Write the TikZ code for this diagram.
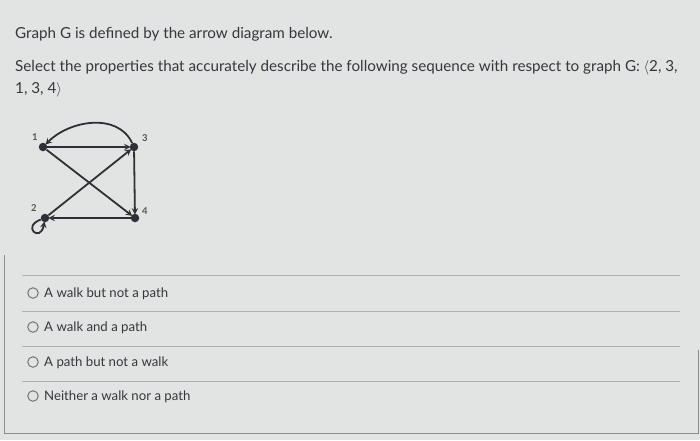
\documentclass[tikz,border=0pt]{standalone}
\usepackage{fontspec}
\setmainfont{Lato}
\usepackage{tikz}
\usetikzlibrary{arrows,calc}
\definecolor{screen}{RGB}{226,228,228}
\definecolor{ink}{RGB}{52,56,60}
\definecolor{edgeink}{RGB}{45,48,52}
\definecolor{rule}{RGB}{175,178,178}
\tikzstyle{vertex} = [circle, fill=edgeink, inner sep=0pt, minimum size=8.5pt]
\tikzstyle{vlabel} = [font=\fontsize{9.5}{10}\selectfont\bfseries, text=ink!85, inner sep=0pt]
\tikzstyle{prompt} = [anchor=base west, font=\fontsize{15.2}{17}\selectfont, text=ink, inner sep=0pt]
\tikzstyle{choice} = [anchor=base west, font=\fontsize{13.2}{15}\selectfont, text=ink, inner sep=0pt]
\tikzstyle{radio} = [circle, draw=ink!70, line width=1pt, minimum size=10.5pt, inner sep=0pt]
\tikzstyle{arrow} = [line width=1.8pt, draw=edgeink, ->, >=stealth, shorten >=-1pt]

\begin{document}
\begin{tikzpicture}[x=1pt, y=-1pt]
\fill[screen] (0,0) rectangle (700,440);
\useasboundingbox (0,0) rectangle (700,440);

% question text
\node (q1) [prompt] at (15,38) {Graph G is defined by the arrow diagram below.};
\node (q2) [prompt] at (15,71) {Select the properties that accurately describe the following sequence with respect to graph G: $\langle$2, 3,};
\node (q3) [prompt] at (15,93) {1, 3, 4$\rangle$};

% graph G
\node (v1) [vertex] at (43,147) {};
\node (v3) [vertex] at (134,147) {};
\node (v2) [vertex] at (45,218) {};
\node (v4) [vertex] at (135,218) {};
\node (l1) [vlabel] at (35,137) {1};
\node (l3) [vlabel] at (145,138) {3};
\node (l2) [vlabel] at (34,208) {2};
\node (l4) [vlabel] at (145,211) {4};

\draw [arrow] (v1) -- (v3);
\draw [arrow] (v3) to[out=115, in=45] (v1);
\draw [arrow] (v1) -- (v4);
\draw [arrow] (v2) -- (v3);
\draw [arrow] (v3) -- (v4);
\draw [arrow] (v4) -- (v2);
\draw [arrow] (v2) to[out=200, in=260, looseness=12] (v2);

% answer choices
\node (c1) [choice] at (44,297) {A walk but not a path};
\node (c2) [choice] at (44,331) {A walk and a path};
\node (c3) [choice] at (44,366) {A path but not a walk};
\node (c4) [choice] at (44,400) {Neither a walk nor a path};
\node (r1) [radio] at (33,293) {};
\node (r2) [radio] at (33,327) {};
\node (r3) [radio] at (33,362) {};
\node (r4) [radio] at (33,396) {};

% separators and frame
\foreach \y in {275,311,346,381}
  \draw [rule, line width=1pt] (22,\y) -- (680,\y);
\draw [rule!80!black, line width=1pt] (4,255) -- (4,433) -- (698,433) -- (698,350);
\end{tikzpicture}
\end{document}
